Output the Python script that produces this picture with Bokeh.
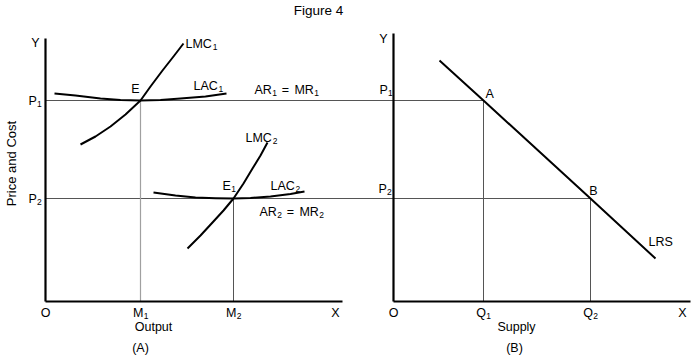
import math
from bokeh.plotting import figure
from bokeh.models import Range1d
from bokeh.core.properties import value
from bokeh.embed import file_html
from bokeh.resources import INLINE

# ---------------- data (schematic units; origin O of each panel = (0,0)) ----------------
# Panel A
axis_a_y_top = 263
axis_a_x_end = 297
P1 = 201
P2 = 103
M1 = 95
M2 = 188
lmc1_x = [35, 50, 65, 80, 95, 105, 117, 128, 138]
lmc1_y = [157, 165, 175, 187, 201, 215, 231, 245, 258]
lac1_x = [9, 30, 55, 75, 95, 115, 135, 160, 181]
lac1_y = [208, 206, 203, 201.5, 201, 201.5, 203, 205, 208]
lmc2_x = [142, 155, 167, 178, 188, 198, 207, 215, 222]
lmc2_y = [53, 66, 79, 91, 103, 118, 133, 146, 159]
lac2_x = [108, 130, 150, 170, 188, 205, 225, 245, 259]
lac2_y = [109, 106, 104, 103.3, 103, 103.5, 105, 107.5, 110]

# Panel B (offset horizontally)
B_OFFSET = 348
axis_b_y_top = 268
axis_b_x_end = 297
Q1 = 90
Q2 = 197
lrs_x = [46, Q1, Q2, 262]
lrs_y = [241, P1, P2, 43]

FONT = value("Liberation Sans")
CW = {"A": 667, "B": 667, "C": 760, "E": 667, "L": 556, "M": 833, "P": 667, "Q": 778,
      "R": 722, "S": 667, "O": 778, "X": 667, "Y": 667, " ": 420, "=": 584}
MAIN = 12.5
SUB = 8.5

p = figure(width=700, height=357, output_backend="svg", toolbar_location=None,
           x_range=Range1d(-45, 655), y_range=Range1d(-56, 301),
           x_axis_location=None, y_axis_location=None, min_border=0)
p.grid.visible = False
p.outline_line_color = None
p.background_fill_color = "white"
p.border_fill_color = "white"


def bx(xs):
    return [B_OFFSET + x for x in xs]


# guide lines
p.line([0, B_OFFSET + Q1], [P1, P1], line_color="#555555", line_width=1)
p.line([0, B_OFFSET + Q2], [P2, P2], line_color="#555555", line_width=1)
p.line([M1, M1], [0, P1], line_color="#a0a0a0", line_width=1.2)
p.line([M2, M2], [0, P2], line_color="#555555", line_width=1)
p.line(bx([Q1, Q1]), [0, P1], line_color="#555555", line_width=1)
p.line(bx([Q2, Q2]), [0, P2], line_color="#555555", line_width=1)

# axes
p.line([0, 0], [0, axis_a_y_top], line_color="black", line_width=2.2)
p.line([0, axis_a_x_end], [0, 0], line_color="black", line_width=2.2)
p.line(bx([0, 0]), [0, axis_b_y_top], line_color="black", line_width=2.2)
p.line(bx([0, axis_b_x_end]), [0, 0], line_color="black", line_width=2.2)

# curves
for xs, ys in [(lmc1_x, lmc1_y), (lac1_x, lac1_y), (lmc2_x, lmc2_y), (lac2_x, lac2_y)]:
    p.line(xs, ys, line_color="black", line_width=2, line_join="round")
p.line(bx(lrs_x), lrs_y, line_color="black", line_width=2)


def txt(x, y, s, align="center", size="12.5px", angle=0.0):
    p.text(x=[x], y=[y], text=[s], text_align=align, text_baseline="middle",
           text_font=FONT, text_font_size=value(size), text_color="black", angle=angle)


def width_of(t, size):
    return sum(CW.get(c, 600) for c in t) * size / 1000


def lab(x, y, s, align="center"):
    """Label where '_d' marks a subscript digit d; spaces split tokens."""
    segs = []
    i = 0
    while i < len(s):
        if s[i] == "_":
            segs.append((s[i + 1], "sub"))
            i += 2
        elif s[i] == " ":
            segs.append((" ", "space"))
            i += 1
        else:
            j = i
            while j < len(s) and s[j] not in "_ ":
                j += 1
            segs.append((s[i:j], "main"))
            i = j
    widths = []
    for t, kind in segs:
        widths.append(556 * SUB / 1000 if kind == "sub" else width_of(t, MAIN))
    total = sum(widths)
    start = {"left": 0, "center": -total / 2, "right": -total}[align]
    off = start
    for (t, kind), w in zip(segs, widths):
        if kind == "sub":
            p.text(x=[x], y=[y], text=[t], text_align="left", text_baseline="middle",
                   x_offset=off + 0.3, y_offset=3.5,
                   text_font=FONT, text_font_size=value(f"{SUB}px"), text_color="black")
        elif kind == "main":
            p.text(x=[x], y=[y], text=[t], text_align="left", text_baseline="middle",
                   x_offset=off, y_offset=0,
                   text_font=FONT, text_font_size=value(f"{MAIN}px"), text_color="black")
        off += w


txt(273, 291, "Figure 4", size="13.5px")
# panel A labels
lab(-10, 259, "Y")
lab(140, 258, "LMC_1", align="left")
lab(90, 213, "E")
lab(148, 216, "LAC_1", align="left")
lab(209, 212, "AR_1 = MR_1", align="left")
lab(-4, 201, "P_1", align="right")
txt(-34, 138, "Price and Cost", size="13px", angle=math.pi / 2)
lab(200, 164, "LMC_2", align="left")
lab(177, 116, "E_1", align="left")
lab(225, 116, "LAC_2", align="left")
lab(214, 90, "AR_2 = MR_2", align="left")
lab(-4, 103, "P_2", align="right")
for xv, s in zip([0, M1, M2, 290], ["O", "M_1", "M_2", "X"]):
    lab(xv, -11, s)
txt(108, -25, "Output")
txt(95, -46, "(A)")

# panel B labels
lab(B_OFFSET - 10, 263, "Y")
lab(B_OFFSET - 1, 212, "P_1", align="right")
lab(B_OFFSET + 92, 208, "A", align="left")
lab(B_OFFSET - 2, 113, "P_2", align="right")
lab(B_OFFSET + 200, 111, "B")
lab(B_OFFSET + 255, 60, "LRS", align="left")
for xv, s in zip([0, Q1, Q2, 289], ["O", "Q_1", "Q_2", "X"]):
    lab(B_OFFSET + xv, -11, s)
txt(B_OFFSET + 123, -25, "Supply")
txt(B_OFFSET + 121, -46, "(B)")

open("out.html", "w").write(file_html(p, INLINE))
